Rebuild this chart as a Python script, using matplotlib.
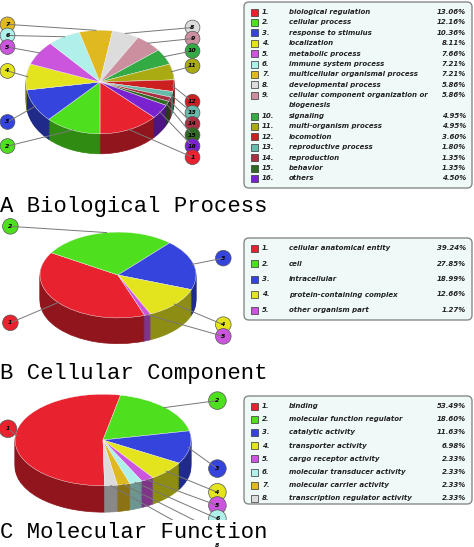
import matplotlib
matplotlib.use("Agg")
import matplotlib.pyplot as plt
import numpy as np
from matplotlib.patches import Wedge, FancyBboxPatch, Circle
from matplotlib import transforms
from matplotlib.colors import to_rgb

bp_labels = ["biological regulation", "cellular process", "response to stimulus", "localization",
             "metabolic process", "immune system process", "multicellular organismal process",
             "developmental process", "cellular component organization or\nbiogenesis", "signaling",
             "multi-organism process", "locomotion", "reproductive process", "reproduction",
             "behavior", "others"]
bp_values = [13.06, 12.16, 10.36, 8.11, 7.66, 7.21, 7.21, 5.86, 5.86, 4.95, 4.95, 3.60, 1.80, 1.35, 1.35, 4.50]

cc_labels = ["cellular anatomical entity", "cell", "intracellular", "protein-containing complex",
             "other organism part"]
cc_values = [39.24, 27.85, 18.99, 12.66, 1.27]

mf_labels = ["binding", "molecular function regulator", "catalytic activity", "transporter activity",
             "cargo receptor activity", "molecular transducer activity", "molecular carrier activity",
             "transcription regulator activity"]
mf_values = [53.49, 18.60, 11.63, 6.98, 2.33, 2.33, 2.33, 2.33]

palette = ["#e8222e", "#4ee01e", "#3444dd", "#e4e41e", "#cc55dd", "#b0f0ea", "#e0b820", "#dcdcdc",
           "#cc8fa0", "#33aa44", "#aaaa12", "#cc2020", "#66bbaa", "#a83040", "#2f6a22", "#7a22d0"]

W, H = 474, 547
fig = plt.figure(figsize=(W / 100, H / 100), dpi=100)


def px(x0, y0, w, h):
    return [x0 / W, 1 - (y0 + h) / H, w / W, h / H]


def draw_pie(y0, h, cx, cy, r, values, start, squash, depth, ball_x):
    ax = fig.add_axes(px(0, y0, 240, h))
    ax.set_xlim(-cx / r, (240 - cx) / r)
    ax.set_ylim(-(y0 + h - cy) / r, (cy - y0) / r)
    ax.axis("off")
    tr = transforms.Affine2D().scale(1, squash) + ax.transData
    angs = [start]
    for v in values:
        angs.append(angs[-1] - v / sum(values) * 360)
    # side wall
    for k in np.linspace(depth, 0.01, 14):
        for i in range(len(values)):
            c = np.array(to_rgb(palette[i])) * 0.62
            w = Wedge((0, -k / squash), 1, angs[i + 1], angs[i], facecolor=c, edgecolor=c, lw=0.5)
            w.set_transform(tr)
            ax.add_patch(w)
    for i in range(len(values)):
        w = Wedge((0, 0), 1, angs[i + 1], angs[i], facecolor=palette[i], edgecolor="white", lw=0.3)
        w.set_transform(tr)
        ax.add_patch(w)
    # number balls
    sides = {1: [], -1: []}
    for i in range(len(values)):
        m = np.deg2rad((angs[i] + angs[i + 1]) / 2)
        x, y = np.cos(m), np.sin(m) * squash
        sides[1 if x >= 0 else -1].append([y, x, i])
    for s, items in sides.items():
        items.sort(key=lambda t: -t[0])
        ys = []
        for y, x, i in items:
            yy = y + 0.08 if y >= 0 else y - depth * 0.8
            if ys and yy > ys[-1] - 0.15:
                yy = ys[-1] - 0.15
            ys.append(yy)
        for (y, x, i), yy in zip(items, ys):
            bx = ball_x[0] if s < 0 else ball_x[1]
            ax.plot([x * 0.98, bx], [y, yy], color="#777777", lw=0.7)
            ax.add_patch(Circle((bx, yy), 0.1, facecolor=palette[i], edgecolor="#555555", lw=0.5))
            ax.text(bx, yy, str(i + 1), ha="center", va="center", fontsize=4.5,
                    fontstyle="italic", fontweight="bold")


def draw_legend(rect, labels, values, row_h):
    ax = fig.add_axes(px(*rect))
    ax.set_xlim(0, rect[2])
    ax.set_ylim(rect[3], 0)
    ax.axis("off")
    ax.add_patch(FancyBboxPatch((2, 2), rect[2] - 4, rect[3] - 4, boxstyle="round,pad=0,rounding_size=5",
                                facecolor="#eef9f8", edgecolor="#888888", lw=1))
    kw = dict(fontsize=5.0, fontstyle="italic", fontweight="bold", va="center", color="#222222")
    y = 12
    for i, (lab, v) in enumerate(zip(labels, values)):
        ax.add_patch(plt.Rectangle((9, y - 3.5), 7, 7, facecolor=palette[i], edgecolor="#333333", lw=0.5))
        ax.text(20, y, f"{i + 1}.", **kw)
        if "\n" in lab:
            ax.text(47, y - 3.5, lab, fontsize=5.0, fontstyle="italic", fontweight="bold",
                    va="top", color="#222222", linespacing=1.9)
        else:
            ax.text(47, y, lab, **kw)
        ax.text(rect[2] - 8, y, f"{v:.2f}%", ha="right", **kw)
        y += row_h * (2 if "\n" in lab else 1)


title_kw = dict(fontsize=16, family="Liberation Mono", va="center")

draw_pie(0, 185, 100, 82, 74, bp_values, 317, 0.7, 0.27, (-1.25, 1.25))
draw_legend((242, 0, 232, 190), bp_labels, bp_values, 10.4)
fig.text(0.0, 1 - 207 / H, "A Biological Process", **title_kw)

draw_pie(215, 140, 118, 275, 78, cc_values, 290, 0.55, 0.33, (-1.38, 1.35))
draw_legend((242, 236, 232, 86), cc_labels, cc_values, 15.5)
fig.text(0.0, 1 - 373 / H, "B Cellular Component", **title_kw)

draw_pie(385, 135, 103, 440, 88, mf_values, 271, 0.52, 0.3, (-1.08, 1.3))
draw_legend((242, 394, 232, 112), mf_labels, mf_values, 13.2)
fig.text(0.0, 1 - 533 / H, "C Molecular Function", **title_kw)

fig.savefig("out.png", dpi=100)
